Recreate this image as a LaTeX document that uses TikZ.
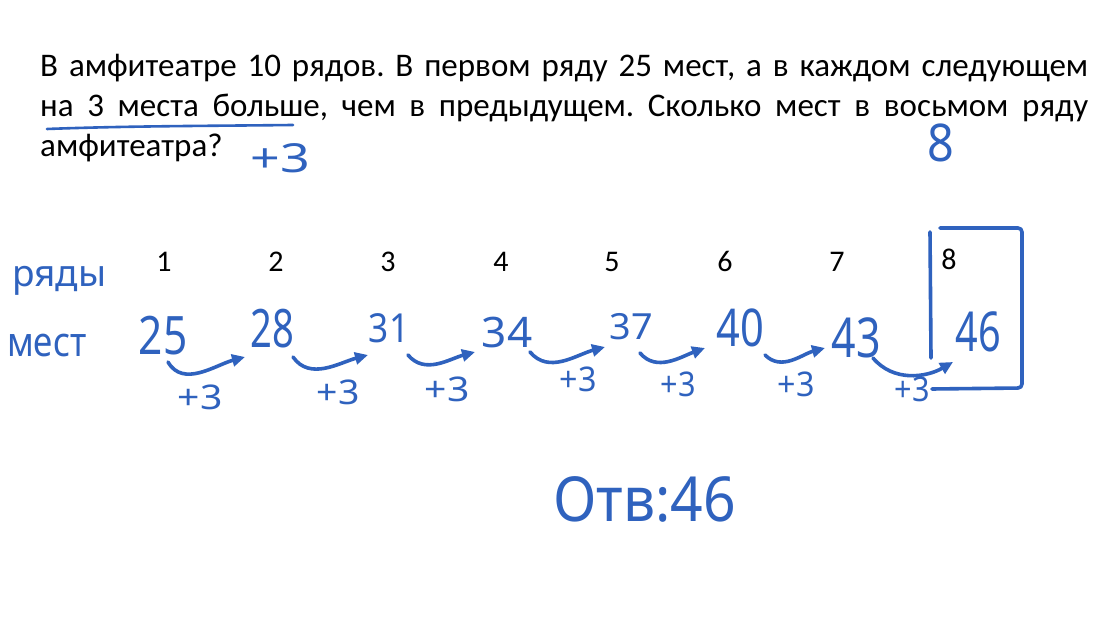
\documentclass[tikz,border=0pt]{standalone}
\usepackage{fontspec}
\usepackage{graphicx}
\setmainfont{Carlito}
\newfontfamily\hwfont{Noto Sans}
\usetikzlibrary{arrows.meta}
\definecolor{hand}{RGB}{47,98,190}
\newcommand\hs[2]{\scalebox{#1}[1]{#2}}
\newcommand\fs[1]{\fontsize{#1}{#1}\selectfont}
\frenchspacing
\begin{document}
\begin{tikzpicture}[x=1pt,y=1pt,
  txt/.style={inner sep=0, anchor=base west, font=\fs{33}},
  rownum/.style={inner sep=0, anchor=base, font=\fs{30}},
  hw/.style={inner sep=0, anchor=base, text=hand},
  harrow/.style={draw=hand, line width=3.6pt, line cap=round, -{Triangle[length=13pt,width=12pt]}},
  hline/.style={draw=hand, line width=3.6pt, line cap=round, line join=round}]
\fill[white] (0,0) rectangle (1107,623);
\useasboundingbox (0,0) rectangle (1107,623);
% problem text
\node[txt] (l1) at (40,546) {\makebox[1048pt][s]{В амфитеатре 10 рядов. В первом ряду 25 мест, а в каждом следующем}};
\node[txt] (l2) at (40,506) {\makebox[1048pt][s]{на 3 места больше, чем в предыдущем. Сколько мест в восьмом ряду}};
\node[txt] (l3) at (40,466) {амфитеатра?};
% underline and notes
\draw[hand, line width=2.6pt, line cap=round] (l2.base west) ++(7pt,-12pt) .. controls +(80pt,3pt) and +(-90pt,-1pt) .. ++(246pt,4pt);
\node[hw, font={\hwfont\fs{40}}] (p3top) at (280,450) {\hs{1.3}{+3}};
\node[hw, font={\hwfont\fs{52}}] (e8top) at (941,461) {\hs{0.9}{8}};
% row labels
\node[hw, anchor=base west, font={\hwfont\fs{37}}] (lr) at (12,336) {ряды};
\node[hw, anchor=base west, font={\hwfont\fs{41}}] (lm) at (7,266) {\hs{0.85}{мест}};
% row numbers
\node[rownum] (r1) at (164,351) {1};
\node[rownum] (r2) at (276,351) {2};
\node[rownum] (r3) at (388,351) {3};
\node[rownum] (r4) at (501,351) {4};
\node[rownum] (r5) at (612,351) {5};
\node[rownum] (r6) at (725,351) {6};
\node[rownum] (r7) at (837,351) {7};
\node[rownum] (r8) at (949,353) {8};
% seat counts
\node[hw, font={\hwfont\fs{53}}] (n1) at (163,268) {\hs{0.8}{25}};
\node[hw, font={\hwfont\fs{53}}] (n2) at (272,275) {\hs{0.72}{28}};
\node[hw, font={\hwfont\fs{40}}] (n3) at (389,280) {\hs{0.88}{31}};
\node[hw, font={\hwfont\fs{42}}] (n4) at (507,275) {\hs{1.05}{34}};
\node[hw, font={\hwfont\fs{36}}] (n5) at (631,283) {\hs{1.05}{37}};
\node[hw, font={\hwfont\fs{52}}] (n6) at (740,276) {\hs{0.8}{40}};
\node[hw, font={\hwfont\fs{55}}] (n7) at (856,265) {\hs{0.78}{43}};
\node[hw, font={\hwfont\fs{55}}] (n8) at (978,271) {\hs{0.72}{46}};
% +3 labels
\node[hw, font={\hwfont\fs{34}}] (d1) at (200,213) {\hs{1.15}{+3}};
\node[hw, font={\hwfont\fs{34}}] (d2) at (338,218) {\hs{1.1}{+3}};
\node[hw, font={\hwfont\fs{34}}] (d3) at (447,221) {\hs{1.15}{+3}};
\node[hw, font={\hwfont\fs{34}}] (d4) at (578,231) {\hs{0.95}{+3}};
\node[hw, font={\hwfont\fs{34}}] (d5) at (678,226) {\hs{0.9}{+3}};
\node[hw, font={\hwfont\fs{34}}] (d6) at (796,226) {\hs{0.95}{+3}};
\node[hw, font={\hwfont\fs{34}}] (d7) at (912,221) {\hs{0.9}{+3}};
% arrows
\draw[harrow] ([shift={(5pt,-7pt)}]n1.base) to[out=-60,in=195] ([shift={(-27pt,-9pt)}]n2.base);
\draw[harrow] ([shift={(21pt,-9pt)}]n2.base) to[out=-55,in=195] ([shift={(-21pt,-12pt)}]n3.base);
\draw[harrow] ([shift={(19pt,-12pt)}]n3.base) to[out=-50,in=195] ([shift={(-32pt,-4pt)}]n4.base);
\draw[harrow] ([shift={(23pt,-4pt)}]n4.base) to[out=-50,in=195] ([shift={(-26pt,-7pt)}]n5.base);
\draw[harrow] ([shift={(9pt,-13pt)}]n5.base) to[out=-50,in=200] ([shift={(-35pt,-1pt)}]n6.base);
\draw[harrow] ([shift={(25pt,-8pt)}]n6.base) to[out=-45,in=195] ([shift={(-31pt,10pt)}]n7.base);
\draw[harrow] ([shift={(17pt,0pt)}]n7.base) to[out=-50,in=210] ([shift={(-25pt,-10pt)}]n8.base);
% box around column 8
\draw[hline] (930,391) -- (931,265);
\draw[hline, rounded corners=4pt] (940,395) -- (1022,395) -- (1022,235) -- (932,234);
% answer
\node[hw, anchor=base west, font={\hwfont\fs{62}}] (ans) at (553,101) {\hs{0.92}{Отв:46}};
\end{tikzpicture}
\end{document}
